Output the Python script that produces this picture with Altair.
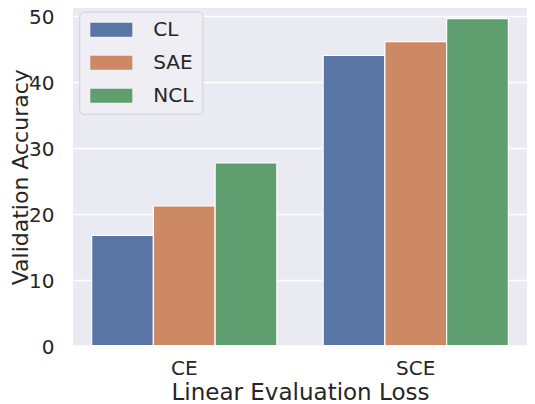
import altair as alt
import pandas as pd

categories = ["CE", "SCE"]
methods = ["CL", "SAE", "NCL"]
cl_values = [16.7, 44.0]
sae_values = [21.2, 46.1]
ncl_values = [27.7, 49.6]
colors = ["#5975A4", "#CC8963", "#5F9E6E"]
y_ticks = [0, 10, 20, 30, 40, 50]

rows = []
for m, vals in zip(methods, [cl_values, sae_values, ncl_values]):
    for c, v in zip(categories, vals):
        rows.append({"loss": c, "method": m, "acc": v})
df = pd.DataFrame(rows)

FONT = "DejaVu Sans"
TXT = "#262626"

chart = alt.Chart(df).mark_bar(stroke="white", strokeWidth=1.2).encode(
    x=alt.X("loss:N", sort=categories,
            scale=alt.Scale(paddingInner=0.2, paddingOuter=0.0806),
            axis=alt.Axis(title="Linear Evaluation Loss", labelAngle=0, grid=False,
                          ticks=False, tickSize=0, domain=False, labelPadding=13,
                          labelFontSize=20, titleFontSize=23, titlePadding=3)),
    xOffset=alt.XOffset("method:N", sort=methods,
                        scale=alt.Scale(paddingInner=0, paddingOuter=0)),
    y=alt.Y("acc:Q", scale=alt.Scale(domain=[0, 51.21], nice=False, zero=True),
            axis=alt.Axis(title="Validation Accuracy", values=y_ticks, grid=True,
                          ticks=False, tickSize=0, domain=False, labelPadding=19,
                          labelOffset=1.5, labelFontSize=20, titleFontSize=22,
                          titleX=-63, titleBaseline="top", titleAngle=270)),
    color=alt.Color("method:N", sort=methods,
                    scale=alt.Scale(domain=methods, range=colors),
                    title=None,
                    legend=alt.Legend(orient="none", legendX=6.3, legendY=3.7,
                                      symbolType="M-1,-1 L5,-1 L5,1 L-1,1 Z",
                                      symbolSize=196, symbolStrokeWidth=0,
                                      symbolOpacity=1,
                                      labelFontSize=20, labelOffset=46,
                                      padding=8, rowPadding=13,
                                      fillColor="#EEEEF4", strokeColor="#CFCFD6",
                                      cornerRadius=4, labelColor=TXT)),
).properties(
    width=454, height=337.5,
    padding={"left": 65, "top": 0, "right": 0, "bottom": 58.5},
    autosize=alt.AutoSizeParams(type="none"),
).configure_view(
    fill="#EAEAF2", strokeWidth=0
).configure_axis(
    gridColor="white", gridWidth=1.3, labelFont=FONT, titleFont=FONT,
    labelColor=TXT, titleColor=TXT, titleFontWeight="normal"
).configure_legend(
    labelFont=FONT
)

chart.save("out.html", embed_options={"renderer": "svg", "actions": False})
